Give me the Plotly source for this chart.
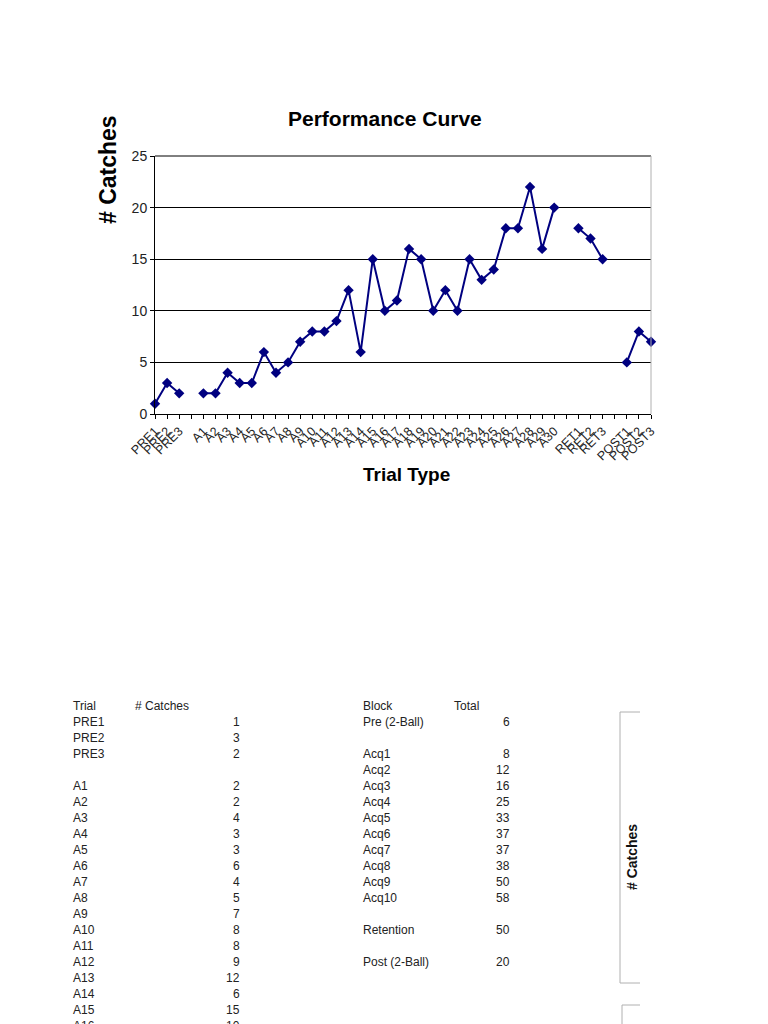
import plotly.graph_objects as go

# ---------------- data ----------------
trials = ["PRE1", "PRE2", "PRE3", "",
          "A1", "A2", "A3", "A4", "A5", "A6", "A7", "A8", "A9", "A10",
          "A11", "A12", "A13", "A14", "A15", "A16", "A17", "A18", "A19", "A20",
          "A21", "A22", "A23", "A24", "A25", "A26", "A27", "A28", "A29", "A30",
          "", "RET1", "RET2", "RET3", "", "POST1", "POST2", "POST3"]
catches = [1, 3, 2, None,
           2, 2, 4, 3, 3, 6, 4, 5, 7, 8,
           8, 9, 12, 6, 15, 10, 11, 16, 15, 10,
           12, 10, 15, 13, 14, 18, 18, 22, 16, 20,
           None, 18, 17, 15, None, 5, 8, 7]

blocks = ["Pre (2-Ball)", "", "Acq1", "Acq2", "Acq3", "Acq4", "Acq5", "Acq6",
          "Acq7", "Acq8", "Acq9", "Acq10", "", "Retention", "", "Post (2-Ball)"]
block_totals = [6, None, 8, 12, 16, 25, 33, 37, 37, 38, 50, 58, None, 50, None, 20]

y_ticks = [0, 5, 10, 15, 20, 25]

# ---------------- layout geometry ----------------
W, H = 768, 1024
L, R, T, B = 155, 651, 156, 414  # plot area in pixels
FONT = "Liberation Sans, Arial, sans-serif"


def px(x):
    return (x - L) / (R - L)


def py(y):
    return (B - y) / (B - T)


xs = list(range(len(trials)))

fig = go.Figure()
fig.add_trace(go.Scatter(
    x=xs, y=catches, mode="lines+markers",
    line=dict(color="#000080", width=2),
    marker=dict(symbol="diamond", size=8, color="#000080"),
    connectgaps=False, cliponaxis=False, showlegend=False,
))

ann = []
# chart texts
ann.append(dict(text="<b>Performance Curve</b>", x=px(385), y=py(118),
                font=dict(size=21, color="black", family=FONT)))
ann.append(dict(text="<b># Catches</b>", x=px(108), y=py(170), textangle=-90,
                font=dict(size=23, color="black", family=FONT)))
ann.append(dict(text="<b>Trial Type</b>", x=px(406), y=py(474),
                font=dict(size=19, color="black", family=FONT)))

# table texts
tfont = dict(size=12, color="#222222", family=FONT)
row0, dy = 722, 16
ann.append(dict(text="Trial", x=px(71), y=py(706), xanchor="left", font=tfont))
ann.append(dict(text="# Catches", x=px(133), y=py(706), xanchor="left", font=tfont))
for k in range(20):
    yy = row0 + dy * k
    if trials[k]:
        ann.append(dict(text=trials[k], x=px(71), y=py(yy), xanchor="left", font=tfont))
        ann.append(dict(text=str(catches[k]), x=px(242), y=py(yy), xanchor="right", font=tfont))

ann.append(dict(text="Block", x=px(361), y=py(706), xanchor="left", font=tfont))
ann.append(dict(text="Total", x=px(452), y=py(706), xanchor="left", font=tfont))
for k, (b, t) in enumerate(zip(blocks, block_totals)):
    yy = row0 + dy * k
    if b:
        ann.append(dict(text=b, x=px(361), y=py(yy), xanchor="left", font=tfont))
        ann.append(dict(text=str(t), x=px(512), y=py(yy), xanchor="right", font=tfont))

# partial chart box on the right
ann.append(dict(text="<b># Catches</b>", x=px(632), y=py(857), textangle=-90,
                font=dict(size=14, color="#111111", family=FONT)))

for a in ann:
    a.setdefault("xref", "paper")
    a.setdefault("yref", "paper")
    a.setdefault("showarrow", False)
    a.setdefault("xanchor", "center")
    a.setdefault("yanchor", "middle")

gray = dict(color="#b0b0b0", width=1)
shapes = [
    # top and right border of plot area
    dict(type="line", xref="paper", yref="paper", x0=0, x1=1, y0=1, y1=1, line=dict(color="black", width=1)),
    dict(type="line", xref="paper", yref="paper", x0=1, x1=1, y0=0, y1=1, line=gray),
    # partial box 1
    dict(type="line", xref="paper", yref="paper", x0=px(620), x1=px(640), y0=py(712), y1=py(712), line=gray),
    dict(type="line", xref="paper", yref="paper", x0=px(620), x1=px(620), y0=py(712), y1=py(983), line=gray),
    dict(type="line", xref="paper", yref="paper", x0=px(620), x1=px(640), y0=py(983), y1=py(983), line=gray),
    # partial box 2
    dict(type="line", xref="paper", yref="paper", x0=px(622), x1=px(640), y0=py(1005), y1=py(1005), line=gray),
    dict(type="line", xref="paper", yref="paper", x0=px(622), x1=px(622), y0=py(1005), y1=py(1030), line=gray),
]

fig.update_layout(
    width=W, height=H,
    margin=dict(l=L, r=W - R, t=T, b=H - B, pad=0),
    paper_bgcolor="white", plot_bgcolor="white",
    annotations=ann, shapes=shapes,
    font=dict(family=FONT, color="#222222"),
)
fig.update_xaxes(
    range=[0, len(trials) - 1], tickmode="array", tickvals=xs, ticktext=trials,
    tickangle=-45, tickfont=dict(size=12.5, color="#222222", family=FONT),
    ticks="outside", ticklen=4, tickcolor="black",
    showline=True, linecolor="black", linewidth=1,
    showgrid=False, zeroline=False,
)
fig.update_yaxes(
    range=[0, 25], tickmode="array", tickvals=y_ticks,
    tickfont=dict(size=14, color="#222222", family=FONT),
    ticks="outside", ticklen=4, tickcolor="black",
    showline=True, linecolor="black", linewidth=1,
    showgrid=True, gridcolor="black", gridwidth=1, zeroline=False,
)

fig.write_html("out.html")
